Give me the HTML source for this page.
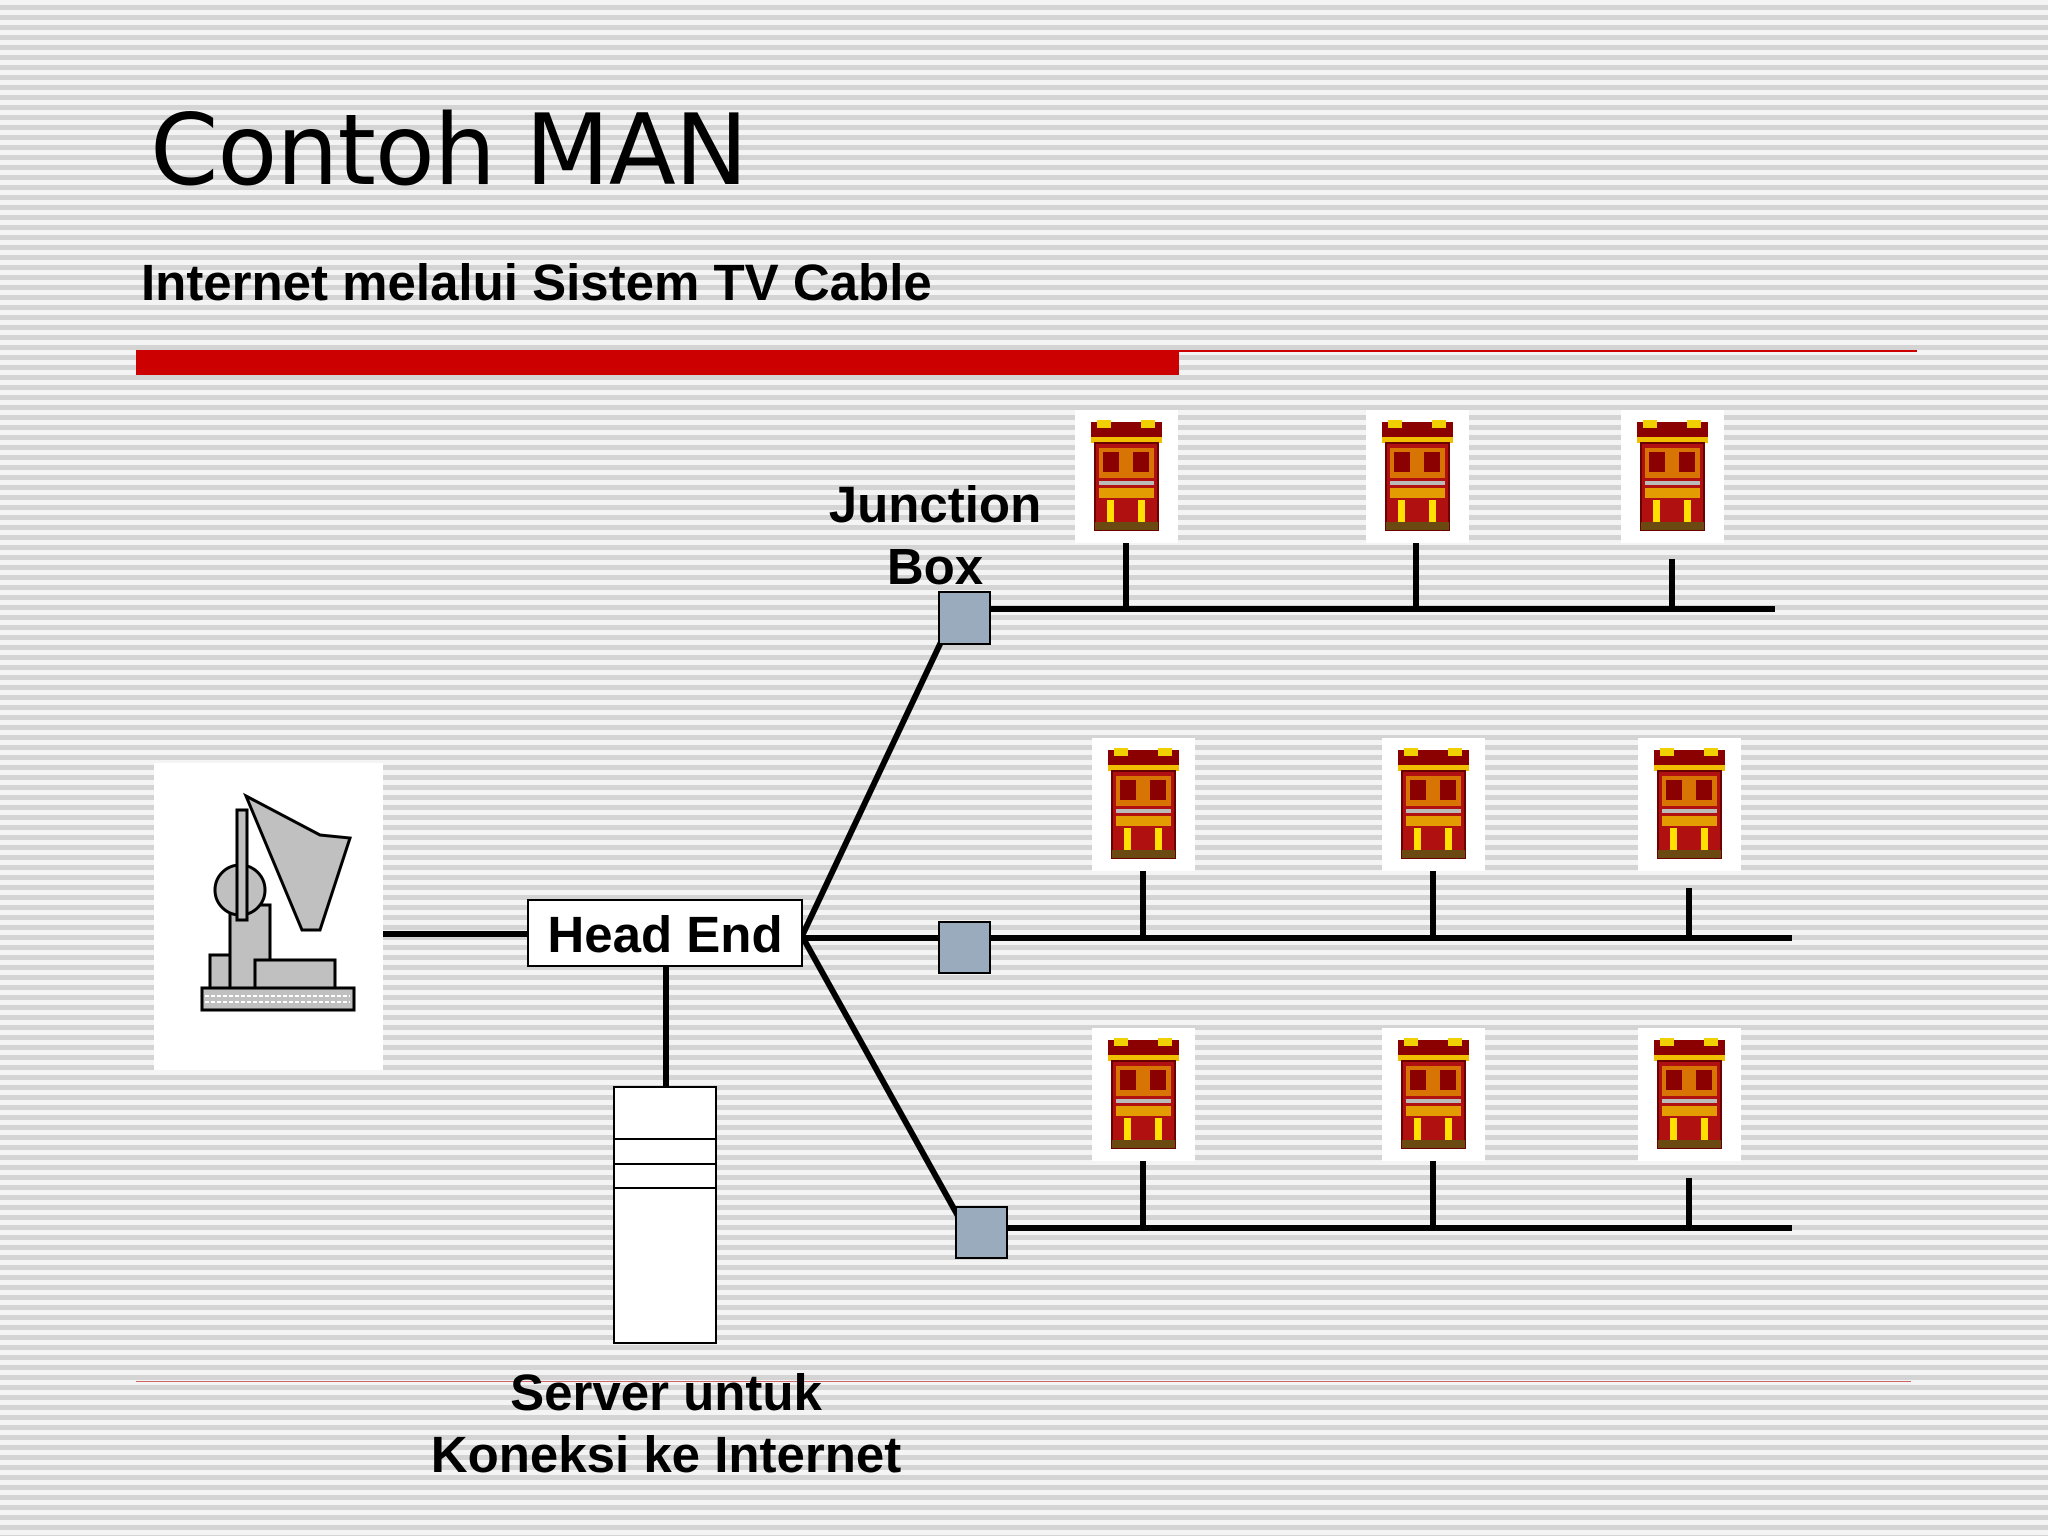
<!DOCTYPE html>
<html><head><meta charset="utf-8"><style>
html,body{margin:0;padding:0}
body{width:2048px;height:1536px;position:relative;overflow:hidden;font-family:"Liberation Sans",sans-serif;
background:repeating-linear-gradient(to bottom,#f4f4f4 0,#f4f4f4 5px,#d4d4d4 5px,#d4d4d4 10px);}
.a{position:absolute}
.t{font-weight:bold;color:#000;text-align:center;white-space:nowrap}
</style></head><body>
<div class="a" style="left:150px;top:94px;font-size:98px;color:#000;font-family:'DejaVu Sans','Liberation Sans',sans-serif;letter-spacing:-1px">Contoh MAN</div>
<div class="a" style="left:141px;top:253px;font-size:51px;font-weight:bold">Internet melalui Sistem TV Cable</div>
<div class="a" style="left:136px;top:350px;width:1043px;height:25px;background:#cc0000"></div>
<div class="a" style="left:1179px;top:350px;width:738px;height:2px;background:#cc0000"></div>
<div class="a" style="left:136px;top:1381px;width:1775px;height:1px;background:#c66"></div>

<svg class="a" style="left:0;top:0" width="2048" height="1536">
<defs>
<g id="bld">
<rect x="0" y="0" width="103" height="133" fill="#fff"/>
<rect x="16" y="12" width="71" height="15" fill="#8b0000"/>
<rect x="22" y="10" width="14" height="8" fill="#f0d000"/>
<rect x="66" y="10" width="14" height="8" fill="#f0d000"/>
<rect x="16" y="27" width="71" height="6" fill="#f0c000"/>
<rect x="20" y="33" width="63" height="87" fill="#b01010"/>
<rect x="20" y="33" width="63" height="87" fill="none" stroke="#6a0000" stroke-width="2"/>
<rect x="24" y="38" width="55" height="30" fill="#e8a000" opacity=".7"/>
<rect x="28" y="42" width="16" height="20" fill="#8b0000"/>
<rect x="58" y="42" width="16" height="20" fill="#8b0000"/>
<rect x="24" y="71" width="55" height="4" fill="#bbb"/>
<rect x="24" y="78" width="55" height="10" fill="#f0c000" opacity=".8"/>
<rect x="32" y="90" width="7" height="22" fill="#ffe000"/>
<rect x="63" y="90" width="7" height="22" fill="#ffe000"/>
<rect x="20" y="112" width="63" height="8" fill="#6a4a10"/>
</g>
</defs>
<g stroke="#000" stroke-width="6" fill="none">
<line x1="376" y1="934" x2="528" y2="934"/>
<line x1="666" y1="966" x2="666" y2="1087"/>
<line x1="802" y1="936" x2="941" y2="642"/>
<line x1="802" y1="936" x2="958" y2="1216"/>
<line x1="802" y1="938" x2="940" y2="938"/>
<line x1="990" y1="609" x2="1775" y2="609"/>
<line x1="990" y1="938" x2="1792" y2="938"/>
<line x1="1007" y1="1228" x2="1792" y2="1228"/>
<line x1="1126" y1="543" x2="1126" y2="609"/>
<line x1="1416" y1="543" x2="1416" y2="609"/>
<line x1="1672" y1="559" x2="1672" y2="609"/>
<line x1="1143" y1="871" x2="1143" y2="938"/>
<line x1="1433" y1="871" x2="1433" y2="938"/>
<line x1="1689" y1="888" x2="1689" y2="938"/>
<line x1="1143" y1="1161" x2="1143" y2="1228"/>
<line x1="1433" y1="1161" x2="1433" y2="1228"/>
<line x1="1689" y1="1178" x2="1689" y2="1228"/>
</g>
<g fill="#9aabbd" stroke="#000" stroke-width="2">
<rect x="939" y="592" width="51" height="52"/>
<rect x="939" y="922" width="51" height="51"/>
<rect x="956" y="1207" width="51" height="51"/>
</g>
<rect x="528" y="900" width="274" height="66" fill="#fff" stroke="#000" stroke-width="2"/>
<rect x="614" y="1087" width="102" height="256" fill="#fff" stroke="#000" stroke-width="2"/>
<g stroke="#000" stroke-width="2"><line x1="614" y1="1139" x2="716" y2="1139"/><line x1="614" y1="1164" x2="716" y2="1164"/><line x1="614" y1="1188" x2="716" y2="1188"/></g>
<use href="#bld" x="1075" y="410"/><use href="#bld" x="1366" y="410"/><use href="#bld" x="1621" y="410"/>
<use href="#bld" x="1092" y="738"/><use href="#bld" x="1382" y="738"/><use href="#bld" x="1638" y="738"/>
<use href="#bld" x="1092" y="1028"/><use href="#bld" x="1382" y="1028"/><use href="#bld" x="1638" y="1028"/>
<rect x="154" y="763" width="229" height="307" fill="#fff"/>
<g stroke="#000" stroke-width="3" fill="#c0c0c0">
<rect x="202" y="988" width="152" height="22"/>
<rect x="210" y="955" width="20" height="33"/>
<rect x="230" y="905" width="40" height="83"/>
<rect x="255" y="960" width="80" height="28"/>
<circle cx="240" cy="890" r="25"/>
<path d="M246 796 L320 835 L350 838 L320 930 L302 930 Z"/>
<rect x="237" y="810" width="10" height="110"/>
</g>
<g stroke="#fff" stroke-width="2"><line x1="205" y1="996" x2="350" y2="996" stroke-dasharray="4 2"/><line x1="205" y1="1002" x2="350" y2="1002" stroke-dasharray="4 2"/></g>
</svg>

<div class="a t" style="left:528px;top:902px;width:274px;height:66px;line-height:66px;font-size:51px">Head End</div>
<div class="a t" style="left:735px;top:474px;width:400px;font-size:51px;line-height:62px">Junction<br>Box</div>
<div class="a t" style="left:366px;top:1362px;width:600px;font-size:51px;line-height:62px">Server untuk<br>Koneksi ke Internet</div>
</body></html>
